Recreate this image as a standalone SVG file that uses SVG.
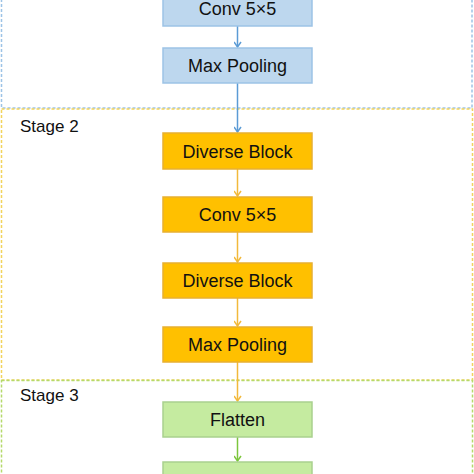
<svg xmlns="http://www.w3.org/2000/svg" width="474" height="474" viewBox="0 0 474 474">
<defs>
<style>
.lbl{font-family:"Liberation Sans",Arial,sans-serif;font-size:18px;fill:#111111;text-anchor:middle}
.stg{font-family:"Liberation Sans",Arial,sans-serif;font-size:17px;fill:#111111}
.b{fill:#BDD7EE;stroke:#9DC3E6;stroke-width:1.5}
.o{fill:#FFC000;stroke:#E8B030;stroke-width:1.5}
.g{fill:#C5EBA0;stroke:#A9D18E;stroke-width:1.5}
.fb{fill:none;stroke:#9DC3E6;stroke-width:1.5;stroke-dasharray:3 2}
.fo{fill:none;stroke:#F2D45C;stroke-width:1.5;stroke-dasharray:3 2}
.fg{fill:none;stroke:#B5D96B;stroke-width:1.5;stroke-dasharray:3 2}
.ab{stroke:#5B9BD5;stroke-width:1.5;fill:none}
.ao{stroke:#F2B93B;stroke-width:1.5;fill:none}
.ag{stroke:#7CC63C;stroke-width:1.5;fill:none}
</style>
<marker id="mb" markerWidth="8" markerHeight="8" refX="6.5" refY="4" orient="auto" markerUnits="userSpaceOnUse" viewBox="0 0 8 8"><path d="M1.5,0.5 L6.5,4 L1.5,7.5" fill="none" stroke="#5B9BD5" stroke-width="1.5"/></marker>
<marker id="mo" markerWidth="8" markerHeight="8" refX="6.5" refY="4" orient="auto" markerUnits="userSpaceOnUse" viewBox="0 0 8 8"><path d="M1.5,0.5 L6.5,4 L1.5,7.5" fill="none" stroke="#F2B93B" stroke-width="1.5"/></marker>
<marker id="mg" markerWidth="8" markerHeight="8" refX="6.5" refY="4" orient="auto" markerUnits="userSpaceOnUse" viewBox="0 0 8 8"><path d="M1.5,0.5 L6.5,4 L1.5,7.5" fill="none" stroke="#7CC63C" stroke-width="1.5"/></marker>
</defs>
<rect width="474" height="474" fill="#ffffff"/>
<g id="frames">
<rect class="fb" x="1.5" y="-10" width="470.5" height="118"/>
<rect class="fo" x="1.5" y="109" width="471" height="271"/>
<rect class="fg" x="1.5" y="380.5" width="471" height="110"/>
</g>
<g id="stage2"><text class="stg" x="20" y="132">Stage 2</text></g>
<g id="stage3"><text class="stg" x="20" y="401">Stage 3</text></g>
<g id="connectors">
<line class="ab" x1="237.5" y1="26" x2="237.5" y2="47" marker-end="url(#mb)"/>
<line class="ab" x1="237.5" y1="83" x2="237.5" y2="132" marker-end="url(#mb)"/>
<line class="ao" x1="237.5" y1="169" x2="237.5" y2="196" marker-end="url(#mo)"/>
<line class="ao" x1="237.5" y1="232" x2="237.5" y2="262" marker-end="url(#mo)"/>
<line class="ao" x1="237.5" y1="298" x2="237.5" y2="326" marker-end="url(#mo)"/>
<line class="ao" x1="237.5" y1="362" x2="237.5" y2="401" marker-end="url(#mo)"/>
<line class="ag" x1="237.5" y1="437" x2="237.5" y2="461" marker-end="url(#mg)"/>
</g>
<g id="conv1"><rect class="b" x="163" y="-9" width="149" height="35"/><text class="lbl" x="237.5" y="15">Conv 5×5</text></g>
<g id="maxpool1"><rect class="b" x="163" y="48" width="149" height="35"/><text class="lbl" x="237.5" y="72">Max Pooling</text></g>
<g id="diverse1"><rect class="o" x="163" y="133" width="149" height="36"/><text class="lbl" x="237.5" y="158">Diverse Block</text></g>
<g id="conv2"><rect class="o" x="163" y="197" width="149" height="35"/><text class="lbl" x="237.5" y="221">Conv 5×5</text></g>
<g id="diverse2"><rect class="o" x="163" y="263" width="149" height="35"/><text class="lbl" x="237.5" y="287">Diverse Block</text></g>
<g id="maxpool2"><rect class="o" x="163" y="327" width="149" height="35"/><text class="lbl" x="237.5" y="351">Max Pooling</text></g>
<g id="flatten"><rect class="g" x="163" y="402" width="149" height="35"/><text class="lbl" x="237.5" y="426">Flatten</text></g>
<g id="next"><rect class="g" x="163" y="462" width="149" height="30"/></g>
</svg>
